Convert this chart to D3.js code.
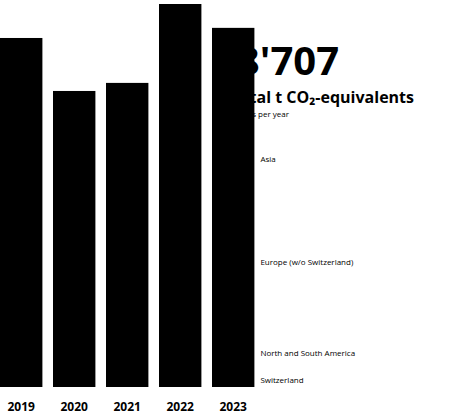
<!DOCTYPE html>
<html>
<head>
<meta charset="utf-8">
<script src="https://cdn.jsdelivr.net/npm/d3@7"></script>
<style>
  body { margin: 0; background: #fff; }
  svg { display: block; font-family: "Open Sans", sans-serif; }
</style>
</head>
<body>
<div id="chart"></div>
<script>
// yearly totals, t CO2-equivalents
const years = ["2019", "2020", "2021", "2022", "2023"];
const totals = [18180, 15420, 15840, 19950, 18707];

// breakdown of the last year, bottom to top
const regions = ["Switzerland", "North and South America", "Europe (w/o Switzerland)", "Asia"];
const regionValues = [730, 2085, 7400, 3335];

const kpiLabel = "t CO₂-equivalents";
const kpiSub = "Tonnes per year";

const width = 474;
const height = 414;
const fmt = v => d3.format(",")(v).replace(/,/g, "'");

const svg = d3.select("#chart").append("svg")
    .attr("width", width)
    .attr("height", height);

const x = d3.scaleBand()
    .domain(years)
    .range([-5.3, 259.7])
    .paddingInner(0.2)
    .paddingOuter(0.1);

const y = d3.scaleLinear()
    .domain([0, d3.max(totals)])
    .range([387, 4]);

// headline sits behind the bars
const head = svg.append("g");
head.append("text")
    .attr("x", 339)
    .attr("y", 75)
    .attr("text-anchor", "end")
    .attr("font-size", 40)
    .attr("font-weight", 700)
    .text(fmt(totals[totals.length - 1]));
head.append("text")
    .attr("x", 414)
    .attr("y", 103)
    .attr("text-anchor", "end")
    .attr("font-size", 16)
    .attr("font-weight", 700)
    .text("Total " + kpiLabel);
head.append("text")
    .attr("x", 289)
    .attr("y", 117)
    .attr("text-anchor", "end")
    .attr("font-size", 8)
    .text(kpiSub);

svg.append("g")
  .selectAll("rect")
  .data(totals)
  .join("rect")
    .attr("x", (d, i) => x(years[i]))
    .attr("y", d => y(d))
    .attr("width", x.bandwidth())
    .attr("height", d => y(0) - y(d))
    .attr("fill", "#000");

// region labels next to the last bar, at the middle of each share
let acc = 0;
const mids = regionValues.map(v => {
  const m = acc + v / 2;
  acc += v;
  return m;
});

svg.append("g")
  .selectAll("text")
  .data(regions)
  .join("text")
    .attr("x", x(years[years.length - 1]) + x.bandwidth() + 6)
    .attr("y", (d, i) => y(mids[i]))
    .attr("dy", "0.35em")
    .attr("font-size", 8)
    .text(d => d);

const xAxis = svg.append("g")
    .attr("transform", `translate(0,${y(0)})`)
    .call(d3.axisBottom(x).tickSize(0).tickPadding(15));
xAxis.select(".domain").remove();
xAxis.selectAll("text")
    .attr("font-size", 12)
    .attr("font-weight", 700)
    .attr("font-family", "Open Sans, sans-serif")
    .attr("fill", "#000");
</script>
</body>
</html>
